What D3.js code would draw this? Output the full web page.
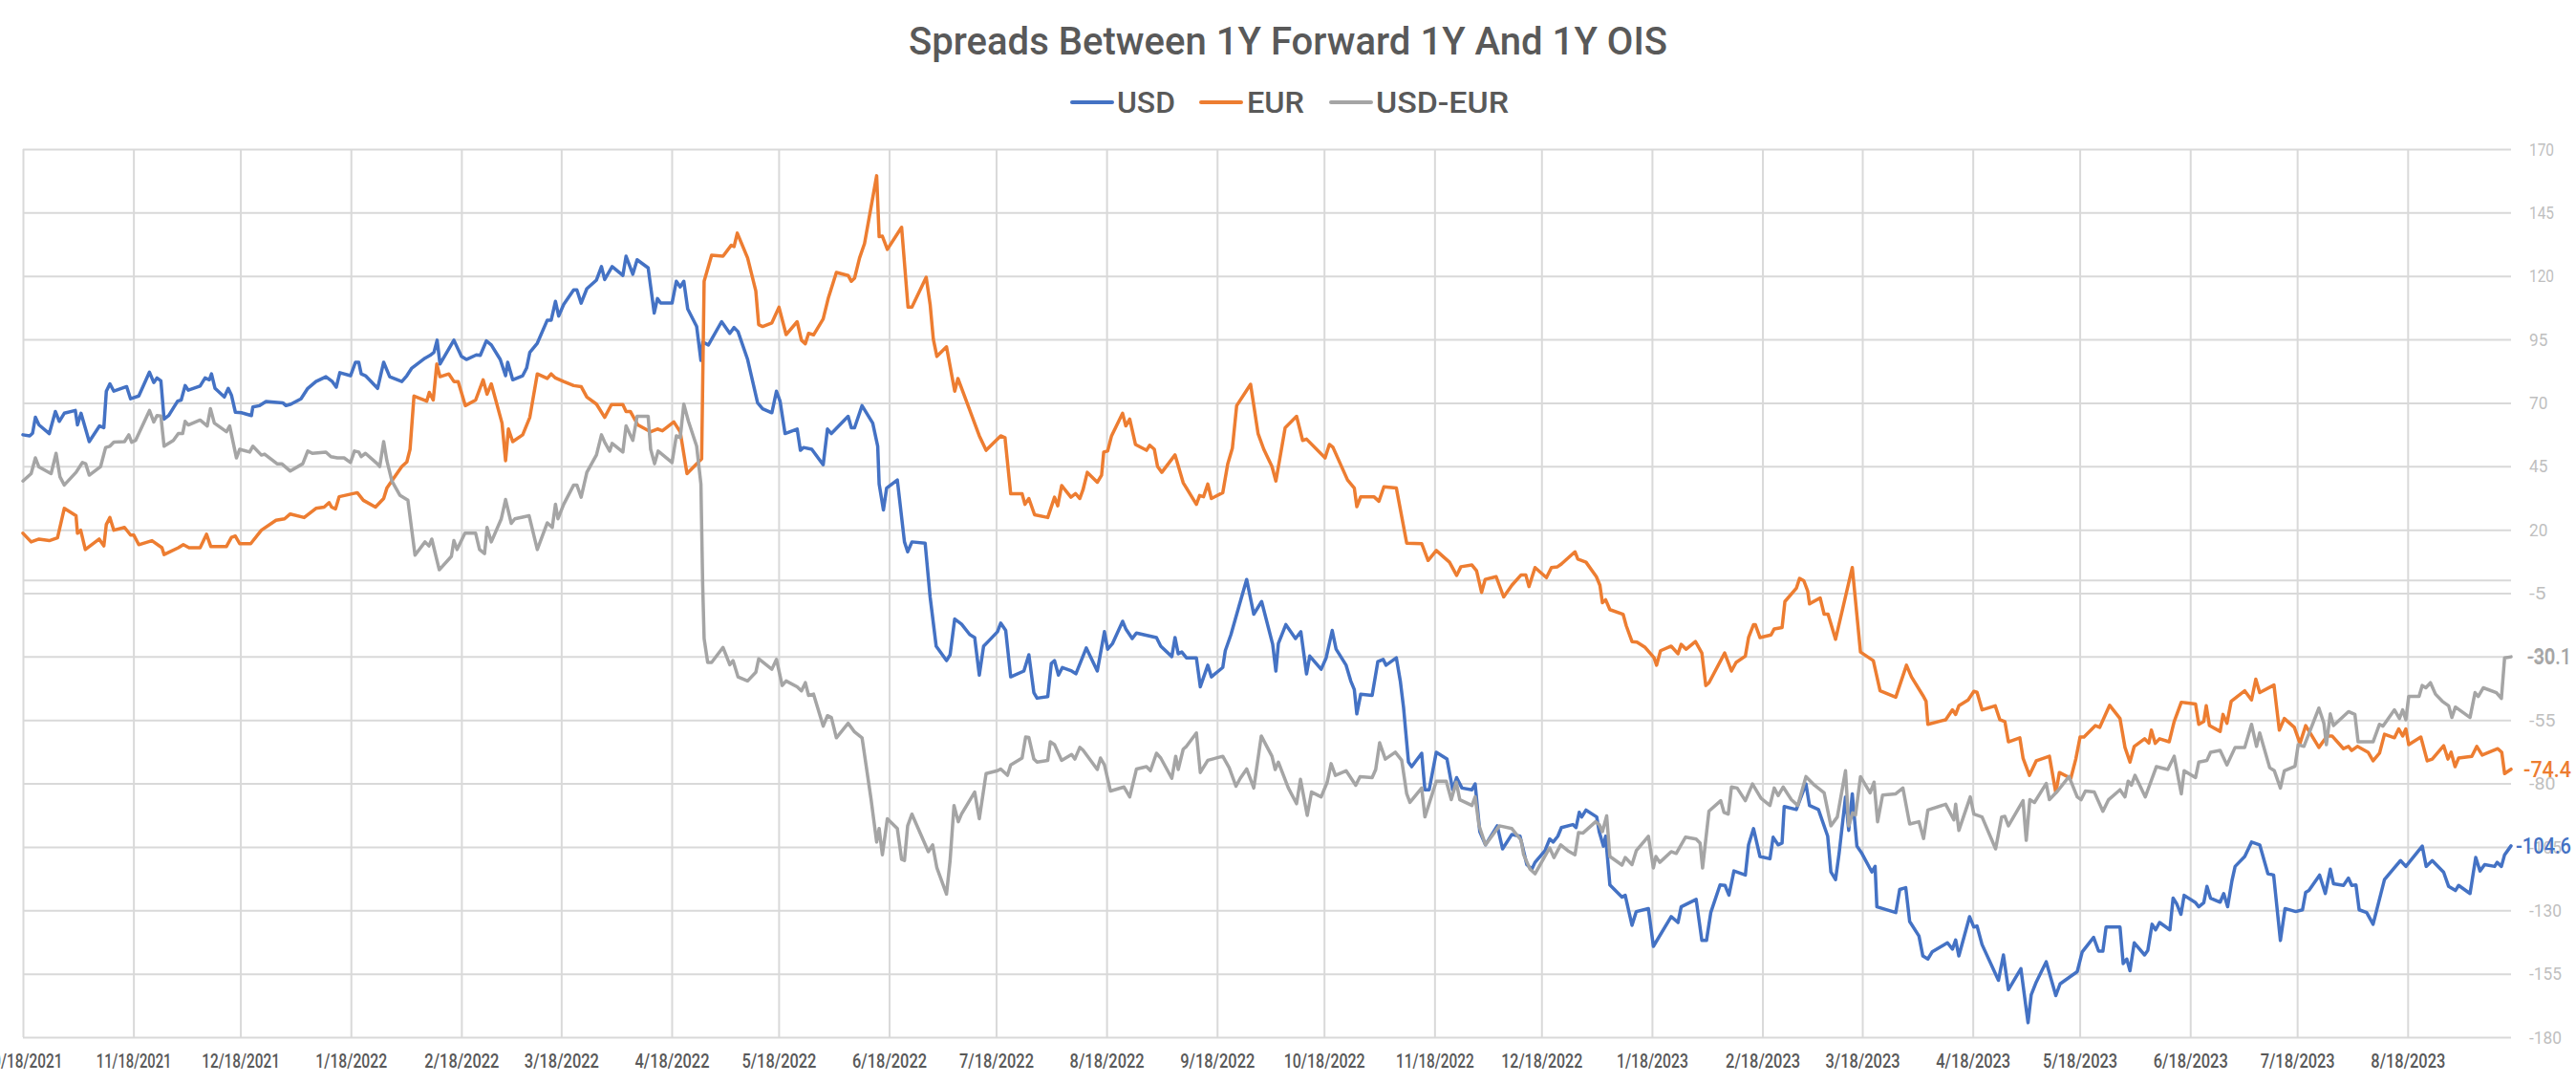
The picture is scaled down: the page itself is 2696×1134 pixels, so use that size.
<!DOCTYPE html>
<html><head><meta charset="utf-8">
<script src="https://cdn.jsdelivr.net/npm/d3@7"></script>
<style>
html,body{margin:0;padding:0;background:#fff;}
svg{display:block;font-family:Roboto,"Liberation Sans",sans-serif;}
</style></head>
<body>
<svg id="chart" width="2696" height="1134"></svg>
<script>
const chartTitle = "Spreads Between 1Y Forward 1Y And 1Y OIS";
const seriesNames = ["USD", "EUR", "USD-EUR"];
const seriesColors = ["#4472C4", "#ED7D31", "#A5A5A5"];
const startDate = "10/18/2021";   // day 0 of the series below
const lastDay = 698;              // last observation (9/15/2023)
const xTickLabels = ["10/18/2021","11/18/2021","12/18/2021","1/18/2022","2/18/2022","3/18/2022","4/18/2022","5/18/2022","6/18/2022","7/18/2022","8/18/2022","9/18/2022","10/18/2022","11/18/2022","12/18/2022","1/18/2023","2/18/2023","3/18/2023","4/18/2023","5/18/2023","6/18/2023","7/18/2023","8/18/2023"];
const yTicks = [170,145,120,95,70,45,20,-5,-30,-55,-80,-105,-130,-155,-180];
const lastLabels = ["-104.6","-74.4","-30.1"];

// [days since startDate, value in bp]
const usdData = [[0,57.4],[1.9,57],[2.7,58],[3.5,64.3],[4.5,61.3],[7.4,57.9],[9.1,66.6],[10.2,62.7],[11.6,65.9],[14.7,67],[15.3,61.3],[16.3,65.9],[18.6,54.7],[21.5,60.9],[22.7,60.2],[23.4,74.6],[24.4,77.5],[25.5,74.6],[29.1,76.4],[30.2,71.6],[32.5,72.7],[35.5,82.1],[36.7,78],[37.6,79.8],[38.7,78.7],[39.6,63.6],[40.9,65],[43.4,70.7],[44.4,71.1],[45.5,76.8],[46.4,75],[49.7,76.6],[51.1,79.8],[52.3,79.1],[52.9,81.4],[53.9,75.7],[56.5,72.3],[57.6,75.7],[58.5,73],[59.6,66.3],[61.3,66.1],[64.1,65],[64.5,68.4],[66.4,68.9],[68.2,70.5],[72.9,70],[73.8,68.9],[75.2,69.5],[78,71.6],[79.9,75.7],[82.2,78.4],[85,80.3],[86.8,78.4],[87.9,76.2],[88.9,81.9],[91.9,80.7],[93.3,86],[94.2,86],[94.9,81.4],[96.1,80.7],[99.5,75.7],[101.2,86],[102.9,80.3],[106.3,78.4],[107.7,80.7],[109.1,83.7],[112.8,87.6],[114.2,88.7],[115.3,89.9],[116.2,94.7],[117,85.3],[120.9,94.7],[123,88.3],[124.4,87.1],[127.2,88.9],[128.3,88.7],[130,94.4],[131.4,92.8],[133.9,87.1],[135.4,80.7],[136,86],[137.4,79.1],[140.2,80.7],[141.3,83.7],[142.2,89.9],[144.3,93.5],[147.1,102.6],[148.2,102.6],[149.4,110],[150.3,104.2],[151.7,108.8],[154.5,114.5],[155.4,114.5],[156.6,109.3],[158.2,115],[160.9,118.4],[162.3,123.7],[163.2,118.6],[165.3,123.7],[168.3,120.2],[169.2,127.8],[171.1,120.7],[172.3,126.4],[175.4,123.2],[177.1,105.4],[178,111.1],[178.9,109.3],[182.1,109.3],[183.3,117.9],[184.4,115.7],[185.4,117.9],[186.5,107],[189,100.1],[190.2,86.7],[190.7,94],[192.3,92.8],[196,102],[198.3,97.4],[199.5,99.7],[200.6,98.1],[203.3,87.1],[206.1,70],[207.5,67.7],[210.1,66.1],[211.4,74.6],[212.4,70.7],[213.8,57.9],[217.2,59.7],[218.1,51.3],[219,52.4],[221.3,51.7],[224.5,45.6],[225.7,59.7],[226.8,57.9],[231.5,64.7],[232.4,60.2],[233.3,60.2],[235.4,68.9],[238.4,62],[239.8,52.9],[240.2,38],[241.4,27.8],[242.3,36.4],[245.3,39.6],[247.3,15.2],[248.2,11.3],[249.4,15.2],[253.1,14.7],[254.5,-6.5],[256.2,-25.9],[259.1,-31.6],[260.1,-29.3],[261.4,-15.2],[263.3,-17.2],[265.6,-21.3],[267,-22.5],[268.3,-37.3],[269.5,-25.9],[271.1,-23.6],[273.4,-20.2],[274.3,-16.8],[275.7,-19.7],[277.1,-38],[280.8,-35.7],[282.2,-29.3],[283.6,-44.2],[284.5,-46.4],[287.5,-45.8],[288.5,-32.7],[289.4,-31.6],[290.5,-37.3],[291.6,-34.3],[294.2,-35.7],[295.4,-36.8],[298.3,-26.6],[301.4,-35.7],[303.4,-20.2],[304.3,-27.1],[305.7,-24.8],[308.5,-16.1],[309.4,-19.1],[311.2,-22.9],[312.4,-20.7],[318,-22.5],[319.2,-25.9],[322.3,-30],[323.2,-22.5],[324.1,-28.9],[325.1,-28.2],[326.4,-30.5],[329.2,-30.5],[330.3,-41.9],[332.4,-33.4],[333.4,-38],[336.6,-34.3],[337.3,-27.7],[338.9,-21.3],[341.2,-9.9],[343.3,0.4],[345.3,-13.3],[347.5,-8.3],[350.6,-25.2],[351.5,-35.7],[352.2,-24.8],[354.3,-17.4],[357,-22.9],[358.5,-20.2],[360.1,-36.8],[361,-29.8],[364.2,-35],[365.6,-30.5],[367.3,-19.7],[368.4,-27.1],[371.2,-33.4],[372.5,-39.6],[373.5,-43],[374.2,-52.6],[375.3,-44.8],[378.5,-45.3],[380.1,-32],[381.6,-31.1],[382.4,-33.4],[385.3,-30.5],[386.4,-39.6],[387.3,-49.9],[388.7,-71.6],[389.6,-73.4],[392.4,-68.1],[393.3,-82.5],[394.5,-82.5],[396.5,-67.7],[399.5,-70.4],[401.1,-82.5],[402.2,-77.7],[403.7,-81.8],[406.5,-82.5],[407.4,-80.2],[408.7,-99],[410.3,-104.2],[413.6,-96.7],[415.1,-105.8],[417.7,-100.1],[420,-100.8],[421.9,-112],[423.3,-113.8],[424.2,-111.1],[427,-106.5],[428.3,-101.9],[429.3,-103.1],[430.6,-100.8],[431.6,-97.4],[434.8,-96.2],[435.7,-97.4],[436.6,-91.4],[437.3,-93.2],[438.5,-90.5],[441.5,-93.2],[442.2,-99],[443.4,-104.7],[444,-100.8],[445.2,-120],[448.6,-124.8],[449.5,-124.1],[451.4,-135.9],[452.6,-130.5],[456,-129.3],[457.4,-144.2],[462.4,-132.5],[464.3,-134.8],[465.2,-128.6],[469.4,-125.7],[471,-141.9],[472.3,-141.9],[473.5,-130.9],[476.1,-120],[477.5,-120.2],[478.6,-124],[480,-114.5],[483.2,-116.1],[484.1,-104.2],[485.5,-97.8],[487.3,-108.8],[490.1,-109.7],[491,-101.2],[492.4,-104.2],[493.5,-103.5],[494.1,-89.1],[497.5,-90.3],[500.2,-80.2],[501.2,-88.7],[503.7,-90.3],[506.3,-100.8],[507.2,-114.9],[508.5,-117.9],[509.5,-107.6],[511.3,-85.3],[512.2,-98.5],[513.2,-84.1],[514.5,-104.7],[515.9,-107.6],[518.7,-114.9],[519.6,-112.7],[520.1,-128.6],[525.4,-130.9],[526.5,-121.8],[528.2,-121.1],[529.3,-134.4],[531.9,-140.1],[533,-148],[534.4,-149.2],[535.6,-146.4],[539.9,-142.8],[541.3,-145.3],[542.2,-141.7],[543.1,-148],[546.1,-132.5],[547.3,-136.6],[548.2,-136.2],[549.6,-143.5],[554.2,-157.6],[555.6,-147.6],[557,-161.3],[560.5,-153],[562.5,-174.3],[563.4,-163.3],[564.8,-158.3],[567.6,-150.3],[570.3,-163.6],[571.5,-159],[574.5,-156],[576.3,-154.2],[577.7,-146.4],[580.9,-140.7],[582.3,-146.1],[583.5,-146.1],[584.4,-136.6],[588.3,-136.6],[589.2,-151],[590.2,-149.2],[591.1,-153.8],[592.3,-142.8],[595.2,-147.6],[596.1,-145.8],[597.3,-135.5],[598.3,-137.7],[599.4,-134.8],[602.3,-137.7],[603.2,-125.2],[604.2,-127.4],[605.4,-131.6],[606.3,-124.1],[609.5,-127],[610.4,-128.6],[611.8,-127],[612.7,-120.6],[613.7,-125.2],[616.4,-126.8],[617.4,-123.4],[618.5,-128.6],[619.7,-118.4],[620.6,-112.7],[623.3,-108.8],[625.2,-103.1],[627.5,-104.2],[629.8,-115.6],[631.4,-116.1],[633.3,-141.9],[634.6,-129.3],[637.6,-130.5],[639.5,-129.8],[640.4,-122.9],[641.3,-122.2],[644.3,-116.1],[645.9,-123.4],[647.3,-113.8],[648.2,-119.5],[651,-120.2],[652.4,-117.3],[653.3,-120.2],[654.5,-120],[655.4,-129.8],[657.5,-130.9],[659.3,-135.5],[662.5,-117.9],[665.6,-112.7],[667,-110.4],[668.5,-112.7],[673.1,-104.7],[674.2,-112.7],[675.9,-110.4],[679.1,-115],[680.5,-120.6],[682.4,-122.2],[683.3,-120.2],[686.5,-123.4],[688.1,-109.2],[689.3,-114.5],[690.6,-112],[693.4,-112.7],[694.1,-111.1],[695.3,-112.7],[696.2,-108.1],[698,-104.6]];

const eurData = [[0,18.6],[2.3,15.2],[4.5,16.3],[7.4,15.7],[9.7,16.8],[11.6,28.4],[14.9,25.5],[15.3,18.6],[16.2,19.8],[17.5,12.2],[21.4,16.3],[22.7,13.6],[23.4,22.1],[24.4,24.8],[25.5,19.8],[28.5,20.9],[30.2,17.9],[31.1,17.9],[32.5,14.1],[36.2,15.7],[39,12.9],[39.6,10.2],[43.6,12.9],[45,14.1],[46.6,12.9],[49.7,12.9],[51.5,18.2],[52.7,13.4],[57.1,13.4],[58.5,17],[59.6,17.5],[60.8,14.5],[63.9,14.5],[66.9,19.8],[71,23.7],[73.4,24.3],[75,26.2],[78.9,24.8],[82.2,28.4],[84.5,28.9],[85.9,30.7],[86.6,28.9],[87.7,28.2],[88.7,33],[93.8,34.6],[95.5,31.6],[98.9,28.9],[101.2,32.3],[102.1,36.4],[106.3,44.9],[107.7,46.7],[108.6,51.7],[109.7,72.7],[113.3,70.7],[114,74.1],[115.1,71.1],[116.1,85.3],[117,80.3],[119.5,81.4],[120.9,78.4],[122.1,78.4],[124.1,68.9],[127,71.1],[129.1,79.1],[130.2,73.4],[131.4,77.5],[134.4,62],[135.4,47.2],[136.2,59.7],[137.4,54.7],[140.2,57.4],[142.2,64.3],[144.3,81.4],[147.1,79.6],[148.2,81.4],[149.4,79.8],[151.7,78.4],[154.5,76.8],[156.6,76.4],[158.2,72.3],[160.9,69.5],[163.2,64.3],[165.1,69.3],[168.3,69.3],[169.2,66.6],[170.4,66.6],[172.5,61.3],[176.1,58.6],[178,59.7],[179.4,59],[182.6,62.5],[184.4,58.6],[186.3,42.1],[190.4,47.9],[191.1,117.9],[193.2,128.2],[196.4,127.8],[198.7,132.1],[199.5,131.6],[200.4,136.9],[203.3,127.1],[205.6,114.1],[206.4,100.8],[207.5,100.1],[210.1,101.5],[212.1,107.7],[214.1,96.9],[217.2,102],[218.4,94.7],[219.5,93.3],[220.4,97.4],[221.8,96.8],[224.5,103.1],[225.9,111.1],[228.2,121.4],[231.5,120.2],[232.4,117.9],[233.3,119.1],[234.7,127.1],[236.1,132.8],[239.5,159.5],[240.2,135.5],[241.1,135.7],[242.5,130.5],[246.5,139.2],[248.3,107.7],[249.4,107.7],[253.4,119.5],[254.5,108.8],[255.4,95.1],[256.4,88.3],[259.1,92.1],[260.5,81.4],[261.4,74.6],[262.3,79.6],[268.3,57],[270.2,51.3],[274.3,57],[275.5,56.3],[277.1,34.2],[280.3,34.2],[281.1,30],[282.2,32.3],[283.8,25.9],[287.5,24.8],[289.4,32.8],[290.3,29.4],[291.4,37.4],[294,32.8],[295.3,34.2],[296.5,32.3],[297.4,35.8],[298.6,42.6],[301.4,38.7],[302.6,41.5],[303.2,50.6],[304.3,51],[305.4,57],[308.5,65.9],[309.4,60.9],[310.5,63.6],[312.1,53.6],[315.2,51.3],[316.1,53.3],[317.4,51.7],[318.3,44.9],[319.5,42.6],[323.2,49.5],[325.5,38.5],[329.2,30],[330.1,33.5],[331.2,33],[332.4,38],[333.4,32.3],[336.6,34.6],[338,46],[339.3,52.2],[340.5,68.9],[344.4,77.3],[346.5,57.9],[348.1,51.7],[350.4,44.9],[351.5,39.2],[354.1,60.2],[357.3,64.7],[359,55.2],[360.1,55.7],[365.3,48.3],[366.5,53.6],[367.5,52.5],[371.6,39.6],[373.5,36.4],[374.2,29.1],[375.3,33],[379,33],[380.4,31.2],[381.8,36.9],[385.3,36.4],[388.2,14.7],[392.4,14.5],[394.2,7.9],[396.5,11.8],[400.2,7.2],[402.2,2],[403.4,5.4],[406.5,6.1],[407.8,3.8],[409.2,-4.7],[410.2,0.4],[413.3,1.5],[415.4,-6.5],[417.7,-1.9],[420.3,2.2],[421.6,2.2],[422.5,-2.4],[424.2,5.1],[427.4,1.1],[428.8,5.1],[430.5,5.4],[431.6,6.5],[435.4,11.3],[436.2,8.4],[438.5,7.2],[441.4,1.5],[442.4,-1.9],[443.1,-8.8],[444,-7.6],[445.2,-11.5],[448.9,-13.3],[449.8,-17.9],[451.4,-24.1],[452.8,-24.3],[455.1,-26.4],[457.6,-30.5],[458.3,-33.4],[459.4,-27.7],[462.4,-25.9],[464.3,-28.9],[465.2,-25.2],[466.6,-27.1],[469.2,-24.1],[471,-28.6],[472.1,-41.4],[473,-40.3],[477.4,-28.6],[479.3,-35.7],[480.6,-32.3],[483.2,-29.8],[484.1,-22.5],[485.5,-17.4],[486,-17.4],[487.3,-22.5],[490.4,-21.5],[491.3,-19.1],[493.5,-18.6],[494.3,-8.3],[497.5,-3.1],[498.4,0.8],[499.6,-0.1],[500.7,-4.2],[501.2,-9.2],[504.2,-6.9],[505.3,-13.3],[506.4,-13.3],[508.5,-23.2],[513.2,5.1],[515.5,-28.2],[519.1,-31.6],[521,-43.5],[525.4,-46],[528.4,-33.4],[529.8,-38],[533,-45.3],[533.9,-47.6],[534.4,-56.7],[539.4,-54.9],[541.3,-51],[542.2,-52.8],[543.1,-49.4],[545.7,-47.1],[547.3,-43.7],[548.2,-44.1],[549.6,-51],[553.3,-49.4],[554.6,-54.9],[556,-55.6],[557,-63.6],[560.2,-62],[561.1,-70],[562.9,-76.8],[564.8,-71.1],[568.5,-69.3],[570.3,-83.7],[571.3,-75.7],[574.5,-78],[575.9,-70.4],[577.1,-61.7],[578.2,-61.7],[581.4,-57.2],[582.6,-57.9],[585.4,-49.2],[588.3,-54.4],[589.7,-65.8],[591.1,-71.6],[592.3,-65.4],[595.2,-62.4],[596.4,-64.1],[597.1,-59],[598.2,-64.2],[599.4,-62.4],[602.1,-63.6],[603.5,-55.6],[605.5,-48],[609.5,-48.7],[610.4,-56.7],[611.8,-55.6],[612.5,-49.4],[613.4,-57.2],[616.4,-59.5],[617.2,-52.8],[618.3,-56.3],[619.5,-47.6],[623.3,-43.5],[625.2,-47.1],[626.4,-38.9],[627.5,-44.2],[631.5,-41.2],[633,-59],[634.4,-54.4],[637.2,-57.9],[638.8,-64.2],[640.4,-57.2],[644.1,-65.8],[646.4,-61.3],[647.8,-61.3],[651,-66.3],[652.4,-65.4],[653.3,-67],[654.9,-65.4],[657.9,-67.7],[659.3,-71.1],[661.1,-68.1],[662.5,-60.6],[665.3,-62],[666.5,-58.5],[667.6,-61.3],[668.5,-58.5],[669.3,-64.7],[672.7,-61.7],[674.5,-71.1],[675.9,-70.4],[679.1,-65.1],[680.3,-70.4],[681.2,-67.7],[682.3,-73.4],[683.3,-70],[687,-69.3],[688.4,-65.4],[689.9,-68.8],[694.3,-66.3],[695.4,-67.7],[696.2,-76.1],[698,-74.4]];

const spreadData = [[0,39.2],[2.3,42.1],[3.5,48.3],[4.5,44.7],[7.9,42.1],[9.3,50.1],[10.4,40.8],[11.6,37.6],[14.9,42.6],[16.7,46.5],[17.6,46],[18.6,41.5],[21.8,44.9],[23.2,52.4],[24.4,52.9],[25.5,54.5],[28.5,54.7],[29.7,57.4],[30.5,54.5],[31.6,55.2],[35.5,67],[36.7,62.5],[37.6,65],[38.7,64.8],[39.6,52.9],[42.2,55.2],[43.6,57.9],[44.8,57.9],[45.5,62.7],[46.4,61.3],[49.7,63.2],[51.7,60.9],[52.6,67.7],[53.7,62],[57.1,58.6],[58,60.9],[59.9,48.3],[60.8,51.7],[63.6,50.6],[64.5,52.9],[66.9,49.4],[67.8,49.8],[71.3,46],[72.6,46],[75,43.1],[78.5,46],[79.9,51],[81.2,50.1],[85,50.6],[86.4,48.8],[88.2,48.3],[90.1,48.3],[91.9,46.5],[93,51],[94.2,50.6],[94.9,48.8],[96.1,50.1],[99.4,46],[100.1,44.9],[101.2,54.7],[102.1,47.2],[103.5,39.2],[105.8,33.5],[108,31.6],[110,10],[112.8,15.2],[113.9,13.6],[114.7,16.3],[116.8,4.2],[120.2,9.5],[120.9,15.7],[121.8,12.2],[124,18.6],[127,18.6],[128.1,12.2],[129.5,10.6],[130.2,20.9],[131.4,15.2],[134.2,24.3],[135.4,31.9],[137,22.5],[138,24.3],[142,25.5],[144.3,12.2],[147.1,22.7],[148.5,20.9],[149.4,30],[150.1,24.3],[151.7,30],[154.5,37.6],[155.4,37.6],[156.6,32.8],[158.2,42.6],[160.9,49.5],[162.3,57.4],[163.2,54.5],[164.6,51],[165.3,54],[168.3,50.6],[169.2,60.9],[171.1,55.2],[172.3,64.7],[175.4,64.7],[176.1,51.7],[177.2,46],[178.2,51],[182.1,46.5],[183.3,57],[184.4,56.3],[185.4,69.5],[186.7,62.7],[189,52.9],[190.2,38],[190.7,-1.9],[191.1,-22.9],[192.1,-32.3],[193.2,-32.3],[196.4,-26.4],[198.3,-33.2],[199.2,-31.6],[200.6,-38],[203.3,-39.6],[205.6,-36.2],[206.4,-30.9],[210.1,-35],[211.4,-31.1],[213,-41.4],[214.1,-39.6],[217.2,-41.9],[218.4,-43.5],[219.5,-40.3],[220.4,-45.3],[221.8,-44.8],[224.5,-57.4],[225.7,-53.3],[226.8,-54],[228.2,-62],[231.5,-56.3],[233.3,-59.7],[235.4,-62],[237.9,-85.9],[239.5,-103.1],[240.2,-97.8],[241.1,-108.1],[242.5,-93.9],[245.3,-97.8],[246.5,-109.9],[247.3,-110.4],[248.2,-96.7],[249.4,-92.1],[254,-106.9],[255.2,-104.2],[256.4,-113.3],[259.1,-123.6],[260.1,-110.4],[261.2,-88.7],[262.4,-95.1],[263.3,-92.1],[267,-83.4],[268.3,-93.9],[270.2,-76.1],[273.4,-75],[274.3,-74.3],[276.2,-76.8],[277.1,-72.7],[280.3,-70],[281.3,-61.7],[282.2,-61.9],[283.6,-70.4],[284.5,-71.6],[287.5,-70.9],[288.2,-63.6],[289.4,-64.7],[291.4,-70.9],[294.2,-68.6],[295.1,-70.4],[296.5,-65.8],[297.4,-66.9],[301.4,-74.5],[302.3,-70],[303.4,-72.7],[305.1,-83],[308.9,-81.4],[310.5,-85.3],[312.4,-74.3],[315.2,-73.4],[316.3,-75],[318,-68.1],[319.2,-70],[322.3,-78],[323.4,-69.3],[324.1,-74.5],[325.5,-66.5],[326.4,-65.4],[329.2,-60.1],[330.3,-75.7],[332.4,-70.9],[336.6,-69.3],[338.4,-73.8],[340.3,-81.1],[341.5,-78],[343.3,-74.3],[345.3,-81.8],[347.4,-61.3],[350.4,-69.3],[351.3,-74.5],[352.2,-71.6],[355,-81.8],[357.3,-88],[358.4,-78.4],[360.3,-92.6],[361.5,-83.4],[364.2,-85.3],[365.9,-79.5],[367,-72.2],[368.2,-76.8],[371.2,-75],[373.9,-80.7],[375.1,-77.3],[378.5,-77.7],[379.5,-74.5],[380.6,-64],[382.2,-70.4],[385,-67.7],[386.8,-70.9],[388.2,-84.1],[389.1,-87.5],[392.4,-81.8],[393.3,-93.2],[396.5,-79.1],[399.3,-79.1],[400.7,-86.4],[402.1,-79.5],[403.1,-86.4],[406.5,-88.7],[407.4,-85.3],[408.5,-96.7],[410.3,-104.2],[414.2,-96.7],[417.7,-97.8],[420.3,-102.4],[421,-108.1],[422.8,-113.8],[424.2,-115.6],[426,-111.1],[428.3,-105.4],[429.5,-109.2],[431.4,-104.2],[433.4,-106.5],[435.4,-108.1],[436.4,-99.4],[437.6,-99.6],[441.2,-95.1],[442.2,-96.2],[443.1,-99],[444.3,-92.8],[445.2,-108.8],[448.6,-112.2],[449.5,-109.2],[451.4,-112],[452.6,-106.5],[456,-100.8],[457.4,-113.3],[458.1,-108.8],[459.2,-111.1],[462.4,-106.9],[463.8,-107.6],[466.4,-101.2],[469.4,-101.9],[470.5,-103.5],[471.2,-113.3],[473,-90.9],[476.3,-86.8],[477.2,-91.4],[478.4,-92.1],[479.3,-81.4],[480.9,-81.8],[483.2,-86.8],[485.2,-80.2],[487.6,-85.9],[490.1,-88.7],[491.3,-81.8],[492.4,-84.8],[493.8,-81.4],[496.1,-86.4],[497.9,-88.7],[500.2,-77.3],[502.6,-80.7],[505.3,-83.7],[507.2,-96.7],[509,-93.2],[511.3,-75],[512.2,-96.7],[513.3,-91.6],[514.1,-92.5],[515.5,-77.3],[518.2,-83.7],[519.3,-79.5],[520.3,-95.1],[521.7,-84.6],[525.4,-84.1],[527.4,-81.8],[529.3,-96],[531.9,-95.1],[533.2,-101.7],[534.4,-90.5],[539.4,-88.2],[541.7,-94.4],[542.2,-88.2],[543.1,-98.5],[546.3,-85.3],[547.3,-92.1],[549.6,-93.2],[553.4,-105.8],[555.1,-93.2],[556,-93],[557,-96.7],[561.1,-86.8],[562,-102.4],[563,-86.4],[564.3,-87.5],[567.6,-80],[568.5,-86.4],[570.8,-83],[574,-77.3],[576.3,-85.3],[577.4,-86.4],[578.6,-83],[581.1,-83.4],[583.5,-91],[585.1,-86.4],[588.3,-82.5],[589.7,-85.3],[590.6,-79.1],[591.5,-80.7],[592.5,-76.8],[595.4,-85.3],[598.5,-73.4],[601.7,-74.5],[603.5,-69.3],[605.5,-84.1],[606.3,-75],[609.5,-77.7],[610.4,-71.6],[612.7,-70.9],[613.7,-67.7],[616.4,-67],[618.3,-72.7],[620.6,-65.8],[623.3,-65.8],[625.2,-56.7],[626.6,-65.4],[627.5,-60.1],[630.3,-73.8],[631.6,-75],[633.3,-81.8],[634.4,-75],[637.4,-73.2],[638.3,-64.7],[639.9,-65.4],[644.1,-50.3],[645.5,-56.3],[646.2,-64.7],[647.3,-52.6],[648.2,-57.2],[652.4,-51.7],[654.2,-52.8],[655.1,-63.6],[659.3,-63.6],[661.1,-56.7],[662.1,-57.4],[665.3,-51],[666.7,-54.4],[667.6,-51],[668.5,-54.9],[669.3,-45.7],[672.2,-45.7],[673.1,-41.4],[674.1,-42.3],[675.4,-40.3],[676.8,-44.8],[678.7,-47.6],[680.5,-49.4],[681.4,-54],[682.4,-49.9],[686.5,-54],[687.9,-44.2],[688.8,-45.7],[690.2,-42.3],[693.9,-44.2],[695.3,-46.5],[696.2,-30.5],[698,-30.1]];

// ---------------- layout ----------------
const W = 2696, H = 1134;
const plot = {left: 24, right: 2628, top: 156, bottom: 1085};
const gridColor = "#d9d9d9";
const textDark = "#595959";
const textLight = "#bfbfbf";

const parseDate = d3.utcParse("%m/%d/%Y");
const t0 = parseDate(startDate);
const DAY = 864e5;
const toDate = d => new Date(t0.getTime() + d * DAY);

const x = d3.scaleUtc().domain([t0, toDate(lastDay)]).range([plot.left, plot.right]);
const y = d3.scaleLinear().domain([-180, 170]).range([plot.bottom, plot.top]);

// width of a condensed (DIN-like) numeric label
function dinWidth(s, size) {
  let w = 0;
  for (const c of s) {
    if (c === "1") w += 0.35;
    else if (/[0-9]/.test(c)) w += 0.51;
    else if (c === "/") w += 0.245;
    else if (c === "-") w += 0.42;
    else if (c === ".") w += 0.22;
    else w += 0.5;
  }
  return w * size;
}

const svg = d3.select("#chart");
svg.append("rect").attr("width", W).attr("height", H).attr("fill", "#fff");

// horizontal gridlines + right labels
const yAxis = d3.axisRight(y)
  .tickValues(yTicks)
  .tickFormat(d => String(d))
  .tickSize(-(plot.right - plot.left))
  .tickPadding(19);
const gy = svg.append("g").attr("transform", `translate(${plot.right},0)`).call(yAxis);
gy.select(".domain").remove();
gy.selectAll(".tick line").attr("stroke", gridColor).attr("stroke-width", 2);
gy.selectAll(".tick text")
  .attr("fill", textLight).attr("font-size", 19).attr("font-family", "Roboto")
  .each(function(d) {
    const s = String(d);
    d3.select(this).attr("textLength", dinWidth(s, 19)).attr("lengthAdjust", "spacingAndGlyphs");
  });

// vertical gridlines + date labels
const xTickDates = xTickLabels.map(parseDate);
const xAxis = d3.axisBottom(x)
  .tickValues(xTickDates)
  .tickFormat((d, i) => xTickLabels[i])
  .tickSize(-(plot.bottom - plot.top))
  .tickPadding(18);
const gx = svg.append("g").attr("transform", `translate(0,${plot.bottom})`).call(xAxis);
gx.select(".domain").remove();
gx.selectAll(".tick line").attr("stroke", gridColor).attr("stroke-width", 2);
gx.selectAll(".tick text")
  .attr("fill", textDark).attr("font-size", 20).attr("font-family", "Roboto").attr("font-weight", 500)
  .each(function(d, i) {
    const s = xTickLabels[i];
    const w = dinWidth(s, 20);
    d3.select(this).attr("text-anchor", "start").attr("x", -w / 2)
      .attr("textLength", w).attr("lengthAdjust", "spacingAndGlyphs");
  });

// horizontal axis line at zero
svg.append("line")
  .attr("x1", plot.left).attr("x2", plot.right)
  .attr("y1", y(0)).attr("y2", y(0))
  .attr("stroke", gridColor).attr("stroke-width", 2);

// series lines
const line = d3.line().x(d => x(toDate(d[0]))).y(d => y(d[1]));
const allSeries = [usdData, eurData, spreadData];
allSeries.forEach((data, i) => {
  svg.append("path").datum(data)
    .attr("fill", "none")
    .attr("stroke", seriesColors[i])
    .attr("stroke-width", 3.5)
    .attr("stroke-linejoin", "round")
    .attr("stroke-linecap", "round")
    .attr("d", line);
});

// end labels
allSeries.forEach((data, i) => {
  const s = lastLabels[i];
  const w = dinWidth(s, 23);
  const last = data[data.length - 1];
  svg.append("text")
    .attr("x", 2691 - w)
    .attr("y", y(last[1]))
    .attr("dy", "0.36em")
    .attr("fill", seriesColors[i])
    .attr("font-size", 23)
    .attr("font-weight", 500)
    .attr("textLength", w).attr("lengthAdjust", "spacingAndGlyphs")
    .text(s);
});

// title
const titleW = 794;
svg.append("text")
  .attr("x", W / 2 - titleW / 2).attr("y", 57)
  .attr("fill", textDark).attr("font-size", 41).attr("font-weight", 500)
  .attr("textLength", titleW).attr("lengthAdjust", "spacingAndGlyphs")
  .text(chartTitle);

// legend
const legendItems = [
  {lineX: 1122, textX: 1169, textW: 61},
  {lineX: 1257, textX: 1305, textW: 60},
  {lineX: 1393, textX: 1440, textW: 139}
];
const lg = svg.append("g");
seriesNames.forEach((name, i) => {
  const it = legendItems[i];
  lg.append("line")
    .attr("x1", it.lineX).attr("x2", it.lineX + 42)
    .attr("y1", 107).attr("y2", 107)
    .attr("stroke", seriesColors[i]).attr("stroke-width", 4).attr("stroke-linecap", "round");
  lg.append("text")
    .attr("x", it.textX).attr("y", 118)
    .attr("fill", textDark).attr("font-size", 31).attr("font-weight", 500)
    .attr("textLength", it.textW).attr("lengthAdjust", "spacingAndGlyphs")
    .text(name);
});
</script>
</body></html>
